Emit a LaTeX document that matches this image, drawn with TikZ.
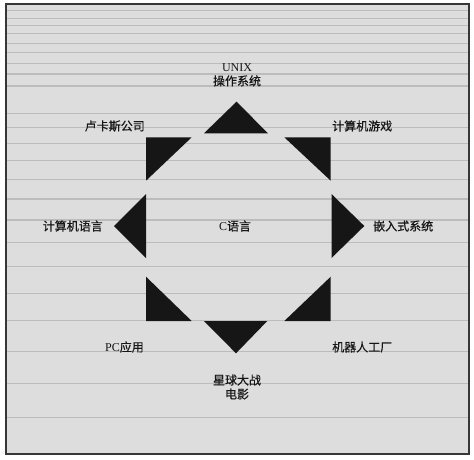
\documentclass[tikz,border=0pt]{standalone}
\usepackage{fontspec}
\setmainfont{Liberation Serif}
\newfontfamily\cjk{Noto Sans CJK SC}[FakeBold=0.6]
\usepackage{xcolor}
\definecolor{paper}{RGB}{221,221,221}
\definecolor{scanline}{RGB}{188,188,188}
\definecolor{framegrey}{RGB}{55,55,55}
\definecolor{ink}{RGB}{22,22,22}
\tikzset{
    tag/.style={font=\fontsize{12}{14}\selectfont, text=ink, inner sep=0pt},
    tagleft/.style={tag, anchor=east},
    tagright/.style={tag, anchor=west},
    wedge/.style={fill=ink},
}

\begin{document}
\begin{tikzpicture}[x=1pt,y=-1pt]
    \useasboundingbox (0,0) rectangle (474,460);
    \fill[white] (0,0) rectangle (474,460);
    \fill[paper] (6,4) rectangle (469,454);
    % scan lines
    \foreach \y in {10.7,18.3,25.7,33.3,43.3,52.7,63.3,74,86,113.3,127.3,143.3,160.7,179.3,199,220,242.3,266.7,293.3,320.7,351.7,383.3,417.3}
        \draw[scanline, line width=1.2pt] (7,\y) -- (468,\y);
    \draw[framegrey, line width=2pt] (6,4) rectangle (469,454);

    % the eight wedges
    \fill[wedge] (236.5,101.7) -- (268,133.3) -- (204,133.3) -- cycle;
    \fill[wedge] (146,137.3) -- (191.7,137.3) -- (146,180.7) -- cycle;
    \fill[wedge] (284.3,137.3) -- (330.7,137.3) -- (330.7,180.7) -- cycle;
    \fill[wedge] (146,194) -- (114,226) -- (146,258) -- cycle;
    \fill[wedge] (331.5,194) -- (364.3,226) -- (331.5,258) -- cycle;
    \fill[wedge] (146,276.7) -- (191.7,321) -- (146,321) -- cycle;
    \fill[wedge] (330.7,276.7) -- (330.7,321) -- (284.3,321) -- cycle;
    \fill[wedge] (204,321) -- (267.3,321) -- (236,353.3) -- cycle;

    \node[tag, align=center] (unix) at (237,75) {UNIX\\{\cjk 操作系统}};
    \node[tagleft] (lucas) at (145,126) {\cjk 卢卡斯公司};
    \node[tagright] (games) at (332,126) {\cjk 计算机游戏};
    \node[tagleft] (complang) at (103,226) {\cjk 计算机语言};
    \node[tag] (clang) at (235,226) {C{\cjk 语言}};
    \node[tagright] (embedded) at (373,226) {\cjk 嵌入式系统};
    \node[tagleft] (pcapp) at (144,347) {PC{\cjk 应用}};
    \node[tagright] (robots) at (332,347) {\cjk 机器人工厂};
    \node[tag, align=center] (starwars) at (237,387) {{\cjk 星球大战}\\{\cjk 电影}};
\end{tikzpicture}
\end{document}
